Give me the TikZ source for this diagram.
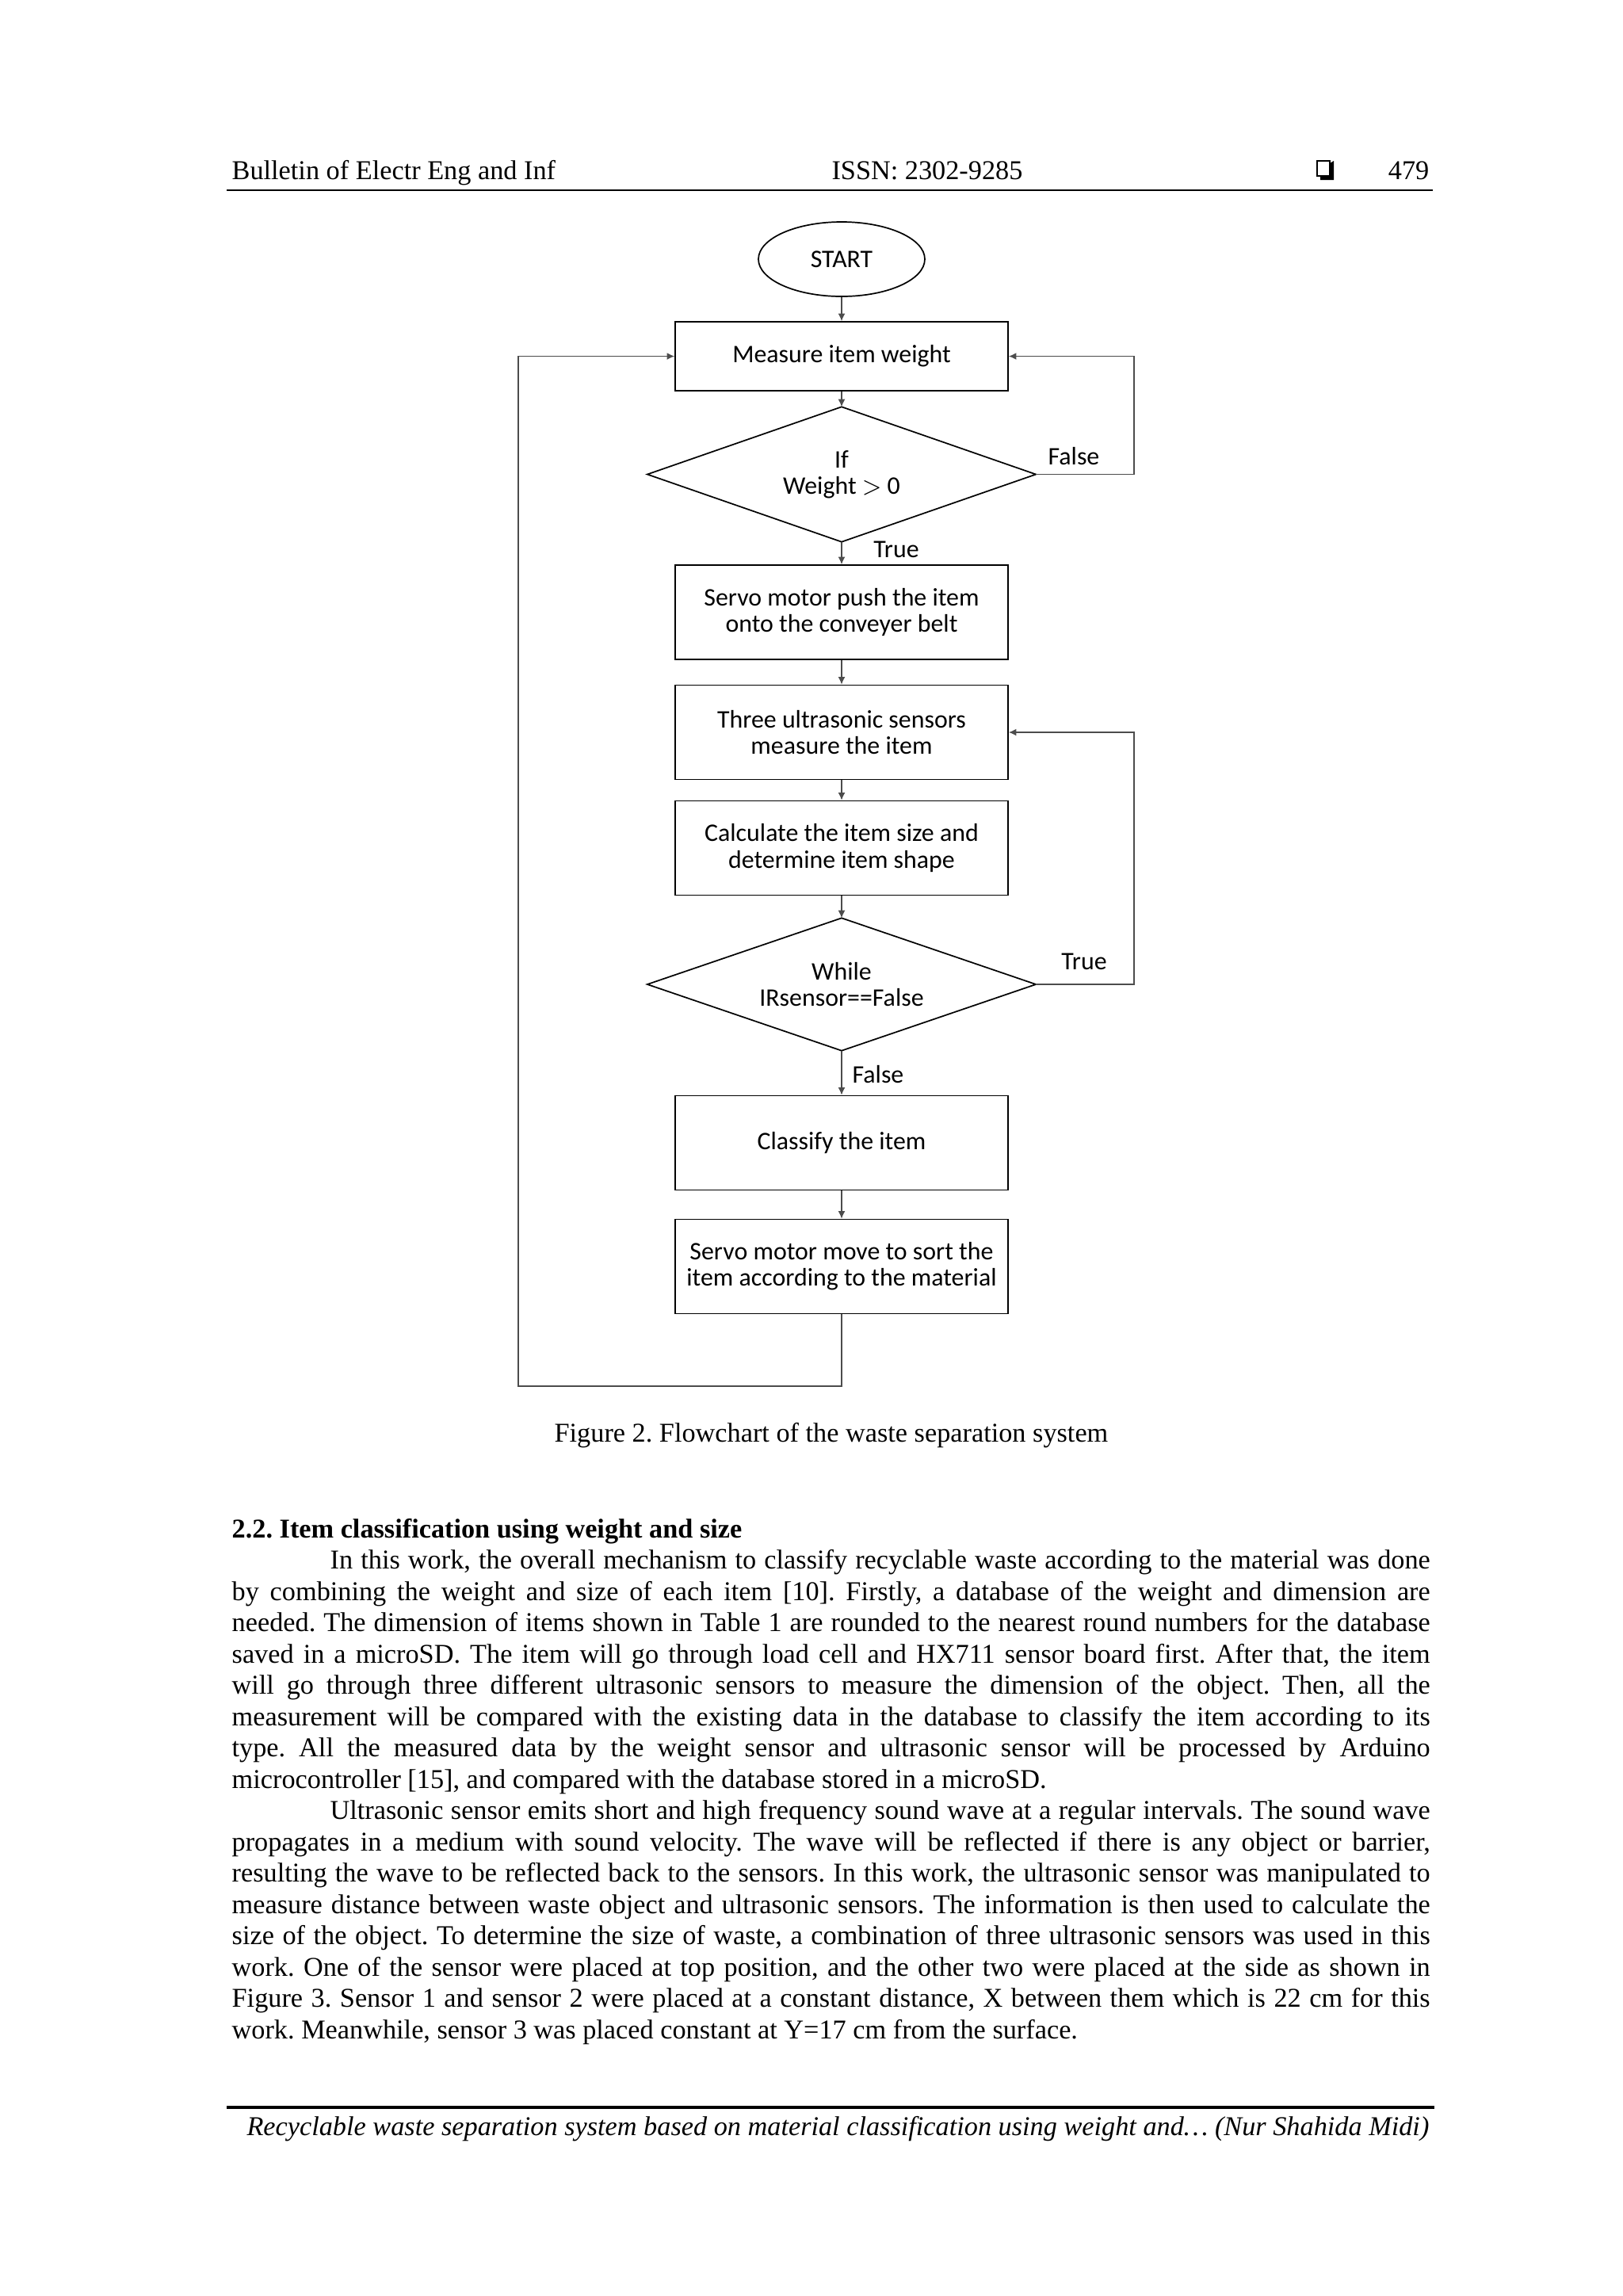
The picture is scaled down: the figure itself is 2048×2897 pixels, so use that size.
\documentclass[tikz,border=0pt]{standalone}
\usepackage{graphicx}
\usepackage{fontspec}
\setmainfont{Liberation Serif}
\newfontfamily\fcfont{Carlito}
\usetikzlibrary{shapes.geometric,arrows.meta}
\frenchspacing
\newlength{\jlen}
\newcommand{\jline}[2]{\settowidth{\jlen}{#2}\ifdim\jlen>#1\relax\resizebox{#1}{\height}{#2}\else\makebox[#1][s]{#2}\fi}
\newcommand{\fullw}{155.04mm}
\newcommand{\indw}{142.33mm}
\begin{document}
\begin{tikzpicture}[x=0.10254mm,y=-0.10254mm,
  fc/.style={font=\fcfont\fontsize{9.3}{9.7}\selectfont},
  proc/.style={draw, line width=0.5pt, fc, align=center, inner sep=0pt, minimum width=43.07mm, minimum height=12.2mm},
  dec/.style={fc, align=center, inner sep=0pt, minimum width=50.14mm},
  diam/.style={draw, line width=0.5pt},
  conn/.style={draw=black!70, line width=0.4pt, -{Latex[length=2.8pt,width=2.6pt]}},
  lbl/.style={fc, inner sep=0pt, anchor=base},
  body/.style={inner sep=0pt, anchor=base west, font=\fontsize{10}{11.5}\selectfont},
]
\useasboundingbox[fill=white] (0,0) rectangle (2048,2897);

% header
\node[body] (hdrL) at (292,226) {Bulletin of Electr Eng and Inf};
\node[body, anchor=base] (hdrC) at (1170,226) {ISSN: 2302-9285};
\node[body, anchor=base east] (hdrR) at (1804,226) {479};
\draw[line width=0.5pt] (1662,203) rectangle (1678,222);
\fill (1678,206) -- (1683,203) -- (1683,227) -- (1666,227) -- (1666,222) -- (1678,222) -- cycle;
\draw[line width=0.7pt] (286,240) -- (1808,240);

% flowchart
\node[draw, ellipse, line width=0.5pt, fc, inner sep=0pt, minimum width=21.53mm, minimum height=9.64mm] (start) at (1062,327) {START};
\node[proc, minimum height=8.92mm] (measure) at (1062,449.5) {Measure item weight};
\node[dec, minimum height=17.33mm] (d1) at (1062,598.5) {If\\Weight $>$ 0};
\draw[diam] (d1.north) -- (d1.east) -- (d1.south) -- (d1.west) -- cycle;
\node[proc] (servo1) at (1062,772.5) {Servo motor push the item\\onto the conveyer belt};
\node[proc] (three) at (1062,924) {Three ultrasonic sensors\\measure the item};
\node[proc] (calc) at (1062,1070) {Calculate the item size and\\determine item shape};
\node[dec, minimum height=17.02mm] (d2) at (1062,1242) {While\\IRsensor==False};
\draw[diam] (d2.north) -- (d2.east) -- (d2.south) -- (d2.west) -- cycle;
\node[proc] (classify) at (1062,1442) {Classify the item};
\node[proc] (servo2) at (1062,1598) {Servo motor move to sort the\\item according to the material};

\coordinate (fR1) at (1431,598.5);
\coordinate (tR2) at (1431,1242);
\coordinate (bB) at (1062,1749);
\coordinate (bL) at (654,1749);

\draw[conn] (start) -- (measure);
\draw[conn] (measure) -- (d1.north);
\draw[conn] (d1.south) -- (servo1);
\draw[conn] (servo1) -- (three);
\draw[conn] (three) -- (calc);
\draw[conn] (calc) -- (d2.north);
\draw[conn] (d2.south) -- (classify);
\draw[conn] (classify) -- (servo2);
\draw[conn] (d1.east) -- (fR1) |- (measure.east);
\draw[conn] (d2.east) -- (tR2) |- (three.east);
\draw[conn] (servo2.south) -- (bB) -- (bL) |- (measure.west);

\node[lbl] (lf1) at (1355,586) {False};
\node[lbl] (lt1) at (1131,703) {True};
\node[lbl] (lt2) at (1368,1223) {True};
\node[lbl] (lf2) at (1108,1366) {False};

% caption
\node[body, anchor=base] (cap) at (1049,1819) {Figure 2. Flowchart of the waste separation system};

% section
\node[body, font=\fontsize{10}{11.5}\selectfont\bfseries] (sec) at (292,1940) {2.2. Item classification using weight and size};
\node[body] (a1) at (416,1979.5) {\jline{\indw}{In this work, the overall mechanism to classify recyclable waste according to the material was done}};
\node[body] (a2) at (292,2019) {\jline{\fullw}{by combining the weight and size of each item [10]. Firstly, a database of the weight and dimension are}};
\node[body] (a3) at (292,2058.5) {\jline{\fullw}{needed. The dimension of items shown in Table 1 are rounded to the nearest round numbers for the database}};
\node[body] (a4) at (292,2098) {\jline{\fullw}{saved in a microSD. The item will go through load cell and HX711 sensor board first. After that, the item}};
\node[body] (a5) at (292,2137.5) {\jline{\fullw}{will go through three different ultrasonic sensors to measure the dimension of the object. Then, all the}};
\node[body] (a6) at (292,2177) {\jline{\fullw}{measurement will be compared with the existing data in the database to classify the item according to its}};
\node[body] (a7) at (292,2216.5) {\jline{\fullw}{type. All the measured data by the weight sensor and ultrasonic sensor will be processed by Arduino}};
\node[body] (a8) at (292,2256) {microcontroller [15], and compared with the database stored in a microSD.};
\node[body] (b1) at (416,2295.5) {\jline{\indw}{Ultrasonic sensor emits short and high frequency sound wave at a regular intervals. The sound wave}};
\node[body] (b2) at (292,2335) {\jline{\fullw}{propagates in a medium with sound velocity. The wave will be reflected if there is any object or barrier,}};
\node[body] (b3) at (292,2374.5) {\jline{\fullw}{resulting the wave to be reflected back to the sensors. In this work, the ultrasonic sensor was manipulated to}};
\node[body] (b4) at (292,2414) {\jline{\fullw}{measure distance between waste object and ultrasonic sensors. The information is then used to calculate the}};
\node[body] (b5) at (292,2453.5) {\jline{\fullw}{size of the object. To determine the size of waste, a combination of three ultrasonic sensors was used in this}};
\node[body] (b6) at (292,2493) {\jline{\fullw}{work. One of the sensor were placed at top position, and the other two were placed at the side as shown in}};
\node[body] (b7) at (292,2532.5) {\jline{\fullw}{Figure 3. Sensor 1 and sensor 2 were placed at a constant distance, X between them which is 22 cm for this}};
\node[body] (b8) at (292,2572) {work. Meanwhile, sensor 3 was placed constant at Y=17 cm from the surface.};

% footer
\draw[line width=1.1pt] (286,2659) -- (1810,2659);
\node[body, anchor=base east, font=\fontsize{10}{11.5}\selectfont\itshape] (foot) at (1804,2694) {Recyclable waste separation system based on material classification using weight and… (Nur Shahida Midi)};
\end{tikzpicture}
\end{document}
